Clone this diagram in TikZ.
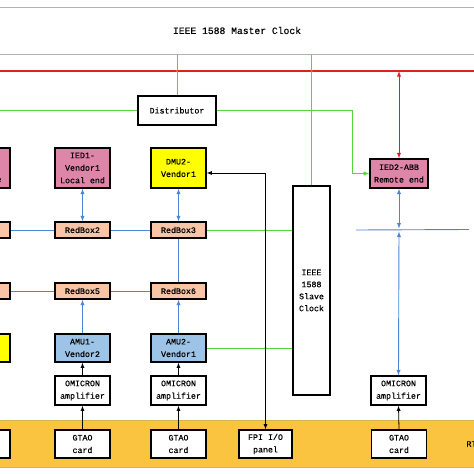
\documentclass[tikz,border=0pt]{standalone}
\usepackage{fontspec}
\setmainfont{Liberation Mono}[FakeBold=0.5]
\usetikzlibrary{calc}

\definecolor{iedpink}{HTML}{DE86A8}
\definecolor{rbpeach}{HTML}{F8C6A6}
\definecolor{amublue}{HTML}{9DC3E6}
\definecolor{dmuyel}{HTML}{FFFF00}
\definecolor{rtdsband}{HTML}{FAC440}
\definecolor{glink}{HTML}{55D63A}
\definecolor{blink}{HTML}{4A86D8}
\definecolor{rlink}{HTML}{E02020}

\tikzset{
  box/.style={draw, line width=1.3pt, align=center, inner sep=0pt,
    minimum width=55pt, font=\fontsize{8.3}{12.5}\selectfont},
  iedbox/.style={box, fill=iedpink, minimum height=40pt},
  dmubox/.style={box, fill=dmuyel, minimum height=40pt},
  redbox/.style={box, fill=rbpeach, minimum height=16pt},
  amubox/.style={box, fill=amublue, minimum height=28pt},
  hwbox/.style={box, fill=white, minimum height=28pt},
  gline/.style={glink, line width=1pt},
  bline/.style={blink, line width=0.9pt},
  rline/.style={rlink, line width=0.9pt},
  jdot/.style={circle, fill, inner sep=0pt, minimum size=2.5pt},
}

\begin{document}
\begin{tikzpicture}[x=1pt, y=-1pt, >=latex]
  \useasboundingbox (0,0) rectangle (474,474);

  % Master clock frame and red bus
  \node[draw=gray!60, line width=1pt, minimum width=490pt, minimum height=47pt,
    font=\fontsize{9.7}{12}\selectfont] (master) at (237,30.5) {IEEE 1588 Master Clock};
  \coordinate (busL) at (-5,71);
  \coordinate (busR) at (479,71);
  \draw[rlink, line width=1.3pt] (busL) -- (busR);

  % RTDS band
  \fill[rtdsband] (-5,420) rectangle (479,467);
  \draw[rtdsband!70!gray, line width=0.8pt] (-5,420) -- (479,420) (-5,467) -- (479,467);
  \node[anchor=west, font=\fontsize{8.3}{12.5}\selectfont] (rtds) at (463,444) {RTDS};

  % Distributor and slave clock
  \node[hwbox, minimum width=78pt, minimum height=29pt] (dist) at (177,110.5) {Distributor};
  \node[hwbox, minimum width=37pt, minimum height=209pt, font=\fontsize{8.3}{12}\selectfont]
    (slave) at (311.5,290.5) {IEEE\\1588\\Slave\\Clock};

  % Column 0 (cut by the left edge)
  \node[iedbox] (ied0) at (-17.5,168) {};
  \node[anchor=base east, font=\fontsize{8.3}{12.5}\selectfont] (ied0end) at (5,182) {Remote side};
  \node[redbox] (rb1) at (-17.5,230) {};
  \node[redbox] (rb4) at (-17.5,291) {};
  \node[dmubox, minimum height=28pt] (dmu1) at (-17.5,348) {};
  \node[hwbox] (gtao0) at (-17.5,444) {};

  % Column 1
  \node[iedbox] (ied1) at (82.5,168) {IED1-\\Vendor1\\Local end};
  \node[redbox] (rb2) at (82.5,230) {RedBox2};
  \node[redbox] (rb5) at (82.5,291) {RedBox5};
  \node[amubox] (amu1) at (82.5,348) {AMU1-\\Vendor2};
  \node[hwbox, minimum height=29pt] (omi1) at (82.5,390.5) {OMICRON\\amplifier};
  \node[hwbox] (gtao1) at (82.5,444) {GTAO\\card};

  % Column 2
  \node[dmubox] (dmu2) at (178.5,168) {DMU2-\\Vendor1};
  \node[redbox] (rb3) at (178.5,230) {RedBox3};
  \node[redbox] (rb6) at (178.5,291) {RedBox6};
  \node[amubox] (amu2) at (178.5,348) {AMU2-\\Vendor1};
  \node[hwbox, minimum height=29pt] (omi2) at (178.5,390.5) {OMICRON\\amplifier};
  \node[hwbox] (gtao2) at (178.5,444) {GTAO\\card};

  % Remote end and FPI panel
  \node[iedbox, minimum width=58pt, minimum height=29pt] (ied2) at (399,173.5) {IED2-ABB\\Remote end};
  \node[hwbox, minimum height=29pt] (omi3) at (398.5,390.5) {OMICRON\\amplifier};
  \node[hwbox] (gtao3) at (399,444) {GTAO\\card};
  \node[hwbox, minimum width=53pt] (fpi) at (265.5,444) {FPI I/O\\panel};

  % Timing links (green)
  \coordinate (gcorner) at (352,110.5);
  \coordinate (gleft) at (-5,110.5);
  \draw[gline] (master.south -| dist.north) -- (dist.north);
  \draw[gline] (gleft) -- (dist.west);
  \draw[gline, ->] (dist.east) -- (gcorner) |- (ied2.west);
  \draw[gline] (master.south -| slave.north) -- (slave.north);
  \draw[gline] (rb3.east) -- (rb3.east -| slave.west);
  \draw[gline] (amu2.east) -- (amu2.east -| slave.west);
  \node[jdot, glink] (j1) at (dist.east -| slave.north) {};
  \node[jdot, glink] (j2) at (rb3.east -| fpi.north) {};
  \node[jdot, glink] (j3) at (amu2.east -| fpi.north) {};
  \node[jdot, orange!80!red] (j4) at (busL -| dist.north) {};
  \node[jdot, orange!80!red] (j5) at (busL -| slave.north) {};
  \draw[rline, <->] (busL -| ied2.north) -- (ied2.north);

  % Process bus (blue)
  \foreach \A/\B in {rb1/rb2, rb2/rb3, rb4/rb5, rb5/rb6} {
    \draw[bline] (\A.east) -- (\B.west);
  }
  \draw[bline] (rb3.south) -- (rb6.north);
  \draw[bline, <->] (ied1.south) -- (rb2.north);
  \draw[bline, <->] (dmu2.south) -- (rb3.north);
  \draw[bline, ->] (amu1.north) -- (rb5.south);
  \draw[bline, ->] (amu2.north) -- (rb6.south);
  \coordinate (wanL) at (356,230);
  \coordinate (wanR) at (469,229.5);
  \coordinate (wanJ) at (399,230);
  \draw[bline] (wanL) -- (wanR);
  \draw[bline, <->, shorten >=1.5pt] (ied2.south) -- (wanJ);
  \draw[bline, <->, shorten <=1.5pt] (wanJ) -- (omi3.north);

  % Analogue outputs (black)
  \foreach \C in {1,2} {
    \draw[->, line width=0.8pt] (gtao\C.north) -- (omi\C.south);
    \draw[->, line width=0.8pt] (omi\C.north) -- (amu\C.south);
  }
  \draw[->, line width=0.8pt] (gtao3.north) -- (omi3.south);
  \draw[<->, line width=0.8pt] ([yshift=-5pt]dmu2.east) -| (fpi.north);
\end{tikzpicture}
\end{document}
